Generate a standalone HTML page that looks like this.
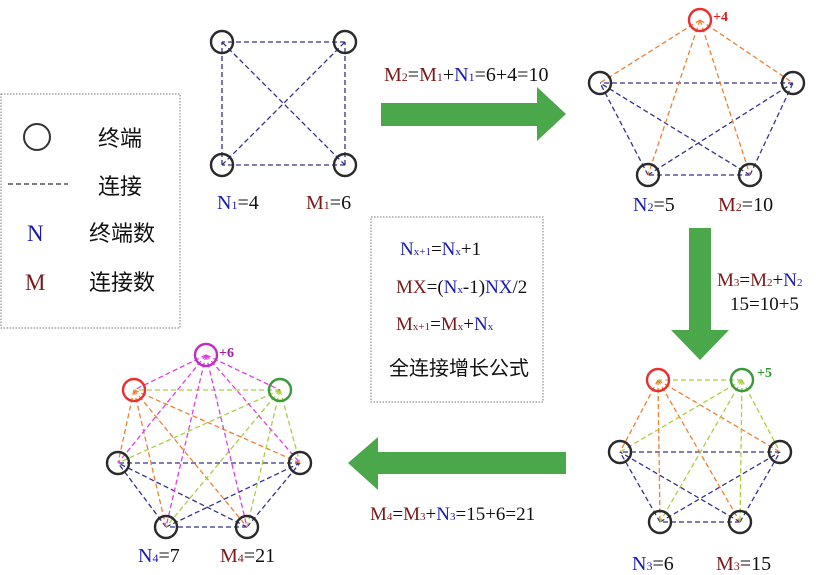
<!DOCTYPE html>
<html><head><meta charset="utf-8"><style>
html,body{margin:0;padding:0;background:#fff;width:816px;height:575px;overflow:hidden}
svg{display:block}
text{font-family:"Liberation Serif","Noto Serif CJK SC",serif}
.cn{font-family:"Liberation Sans","Noto Sans CJK SC",sans-serif}
.b{fill:#1a1ab0}.r{fill:#7a1a1a}.k{fill:#111}
</style></head><body>
<svg id="s" width="816" height="575" viewBox="0 0 816 575" xmlns="http://www.w3.org/2000/svg">
<rect x="1" y="94" width="179" height="234" fill="none" stroke="#777" stroke-width="1" stroke-dasharray="1.5,1.5"/>
<circle cx="37" cy="137" r="13" fill="none" stroke="#333" stroke-width="2"/>
<text x="98" y="146" class="cn k" font-size="22">终端</text>
<line x1="8" y1="184" x2="68" y2="184" stroke="#333" stroke-width="1.2" stroke-dasharray="5,3"/>
<text x="98" y="194" class="cn k" font-size="22">连接</text>
<text x="27" y="241" class="b" font-size="23">N</text>
<text x="89" y="241" class="cn k" font-size="22">终端数</text>
<text x="25" y="290" class="r" font-size="23">M</text>
<text x="89" y="290" class="cn k" font-size="22">连接数</text>
<rect x="371" y="217" width="172" height="185" fill="none" stroke="#777" stroke-width="1" stroke-dasharray="1.5,1.5"/>
<text x="400" y="255" font-size="19"><tspan class="b">N</tspan><tspan class="b" font-size="11">x+1</tspan><tspan class="k">=</tspan><tspan class="b">N</tspan><tspan class="b" font-size="11">x</tspan><tspan class="k">+1</tspan></text>
<text x="396" y="293" font-size="19"><tspan class="r">MX</tspan><tspan class="k">=(</tspan><tspan class="b">N</tspan><tspan class="b" font-size="11">x</tspan><tspan class="k">-1)</tspan><tspan class="b">NX</tspan><tspan class="k">/2</tspan></text>
<text x="396" y="330" font-size="19"><tspan class="r">M</tspan><tspan class="r" font-size="11">x+1</tspan><tspan class="k">=</tspan><tspan class="r">M</tspan><tspan class="r" font-size="11">x</tspan><tspan class="k">+</tspan><tspan class="b">N</tspan><tspan class="b" font-size="11">x</tspan></text>
<text x="389" y="375" class="cn k" font-size="20">全连接增长公式</text>
<g fill="#4aa84a">
<rect x="381" y="103" width="158" height="23"/><polygon points="537,87 566,114 537,141"/>
<rect x="689" y="228" width="22" height="104"/><polygon points="671,330 729,330 700,360"/>
<rect x="376" y="452" width="190" height="22"/><polygon points="378,437 348,463 378,490"/>
</g>
<g id="edges"></g>
<g id="nodes"></g>
<text x="384" y="81" font-size="20"><tspan class="r">M</tspan><tspan class="r" font-size="12">2</tspan><tspan class="k">=</tspan><tspan class="r">M</tspan><tspan class="r" font-size="12">1</tspan><tspan class="k">+</tspan><tspan class="b">N</tspan><tspan class="b" font-size="12">1</tspan><tspan class="k">=6+4=10</tspan></text>
<text x="217" y="209" font-size="20"><tspan class="b">N</tspan><tspan class="b" font-size="12">1</tspan><tspan class="k">=4</tspan></text>
<text x="306" y="209" font-size="20"><tspan class="r">M</tspan><tspan class="r" font-size="12">1</tspan><tspan class="k">=6</tspan></text>
<text x="633" y="211" font-size="20"><tspan class="b">N</tspan><tspan class="b" font-size="12">2</tspan><tspan class="k">=5</tspan></text>
<text x="718" y="211" font-size="20"><tspan class="r">M</tspan><tspan class="r" font-size="12">2</tspan><tspan class="k">=10</tspan></text>
<text x="717" y="286" font-size="19"><tspan class="r">M</tspan><tspan class="r" font-size="11">3</tspan><tspan class="k">=</tspan><tspan class="r">M</tspan><tspan class="r" font-size="11">2</tspan><tspan class="k">+</tspan><tspan class="b">N</tspan><tspan class="b" font-size="11">2</tspan></text>
<text x="730" y="310" font-size="19" class="k">15=10+5</text>
<text x="632" y="570" font-size="20"><tspan class="b">N</tspan><tspan class="b" font-size="12">3</tspan><tspan class="k">=6</tspan></text>
<text x="716" y="570" font-size="20"><tspan class="r">M</tspan><tspan class="r" font-size="12">3</tspan><tspan class="k">=15</tspan></text>
<text x="370" y="520" font-size="19"><tspan class="r">M</tspan><tspan class="r" font-size="11">4</tspan><tspan class="k">=</tspan><tspan class="r">M</tspan><tspan class="r" font-size="11">3</tspan><tspan class="k">+</tspan><tspan class="b">N</tspan><tspan class="b" font-size="11">3</tspan><tspan class="k">=15+6=21</tspan></text>
<text x="138" y="562" font-size="20"><tspan class="b">N</tspan><tspan class="b" font-size="12">4</tspan><tspan class="k">=7</tspan></text>
<text x="220" y="562" font-size="20"><tspan class="r">M</tspan><tspan class="r" font-size="12">4</tspan><tspan class="k">=21</tspan></text>
<text x="713" y="21" font-size="14" font-weight="bold" fill="#e02020">+4</text>
<text x="757" y="377" font-size="14" font-weight="bold" fill="#2a9a2a">+5</text>
<text x="219" y="357" font-size="14" font-weight="bold" fill="#9a209a">+6</text>
</svg>
<script>
var NS="http://www.w3.org/2000/svg",E=document.getElementById("edges"),N=document.getElementById("nodes");
var C={k:"#2a2a2a",r:"#e83030",g:"#3a9a3a",m:"#c030c0"},L={k:"#33338a",r:"#f08030",g:"#a8d040",m:"#e040e0"};
function graph(nodes){
 for(var i=0;i<nodes.length;i++)for(var j=0;j<i;j++){
  var a=nodes[i],b=nodes[j];var c=L[a[2]];
  var l=document.createElementNS(NS,"line");
  l.setAttribute("x1",a[0]);l.setAttribute("y1",a[1]);l.setAttribute("x2",b[0]);l.setAttribute("y2",b[1]);
  l.setAttribute("stroke",c);l.setAttribute("stroke-width","1.3");l.setAttribute("stroke-dasharray","5,3");E.appendChild(l);}
 nodes.forEach(function(n){var c=document.createElementNS(NS,"circle");
  c.setAttribute("cx",n[0]);c.setAttribute("cy",n[1]);c.setAttribute("r","11");c.setAttribute("fill","none");
  c.setAttribute("stroke",C[n[2]]);c.setAttribute("stroke-width","2.4");N.appendChild(c);});
}
graph([[222,42,"k"],[345,42,"k"],[222,165,"k"],[345,165,"k"]]);
graph([[600,83,"k"],[793,83,"k"],[648,175,"k"],[750,175,"k"],[700,20,"r"]]);
graph([[620,452,"k"],[780,452,"k"],[660,522,"k"],[740,522,"k"],[658,380,"r"],[742,380,"g"]]);
graph([[118,463,"k"],[300,463,"k"],[166,527,"k"],[247,527,"k"],[134,390,"r"],[280,390,"g"],[206,355,"m"]]);
</script>
</body></html>
